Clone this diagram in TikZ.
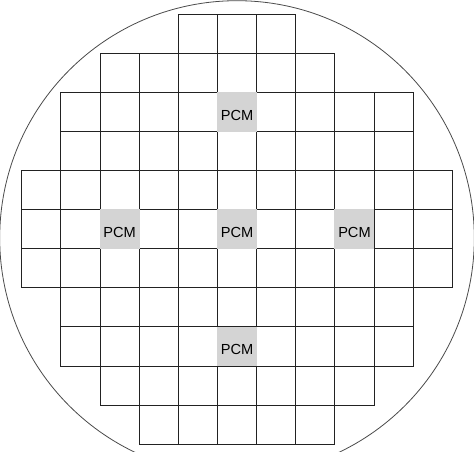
\documentclass[tikz,border=0pt]{standalone}
\usepackage{fontspec}
\setmainfont{Liberation Sans}
\definecolor{gridc}{HTML}{222222}
\definecolor{waferc}{HTML}{4A4A4A}
\definecolor{pcmgray}{HTML}{D4D4D4}
\begin{document}
\begin{tikzpicture}[x=1pt,y=-1pt,
  cell/.style={draw=gridc, line width=0.9pt, minimum width=39.15pt, minimum height=39.03pt, inner sep=0pt, outer sep=0pt},
  pcm/.style={fill=pcmgray, minimum width=40pt, minimum height=39.9pt, inner sep=0pt, outer sep=0pt,
    text height=15.5pt, text depth=0pt, font=\fontsize{14.6}{16}\selectfont, text=black},
  wafer/.style={draw=waferc, line width=0.8pt}]
\useasboundingbox (0,0) rectangle (474,452);
\begin{scope}
  \clip (0,0) rectangle (474,452);
  \draw[wafer] (237,238) circle (237.3);
\end{scope}
\foreach \r/\a/\b in {0/4/6, 1/2/7, 2/1/9, 3/1/9, 4/0/10, 5/0/10, 6/0/10, 7/1/9, 8/1/9, 9/2/8, 10/3/7} {
  \foreach \c in {\a,...,\b} {
    \node[cell] (c-\r-\c) at ({21.7+39.15*(\c+0.5)},{14.7+39.03*(\r+0.5)}) {};
  }
}
\foreach \r/\c in {2/5, 5/2, 5/5, 5/8, 8/5} {
  \node[pcm] (pcm-\r-\c) at (c-\r-\c) {PCM};
}
\end{tikzpicture}
\end{document}
